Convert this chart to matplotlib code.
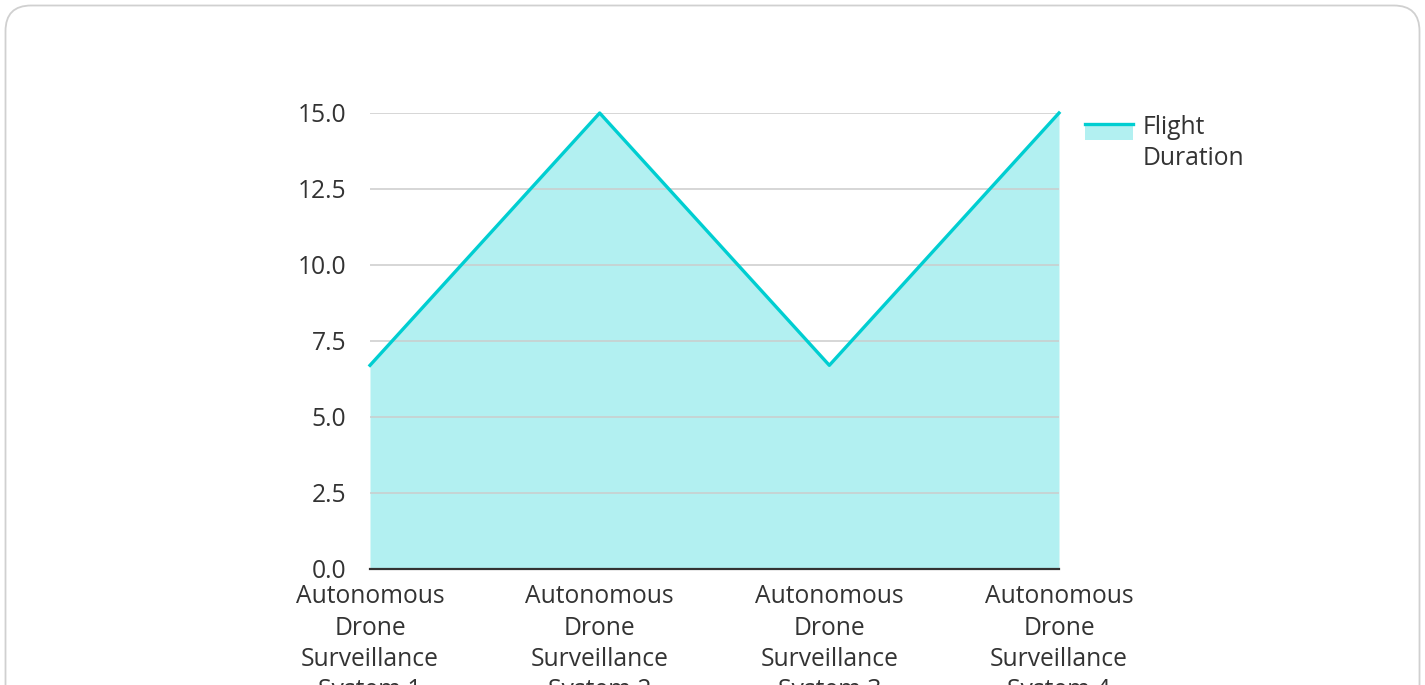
import numpy as np
import matplotlib.pyplot as plt
from matplotlib.patches import FancyBboxPatch, Rectangle
from matplotlib.lines import Line2D

plt.rcParams['font.family'] = ['Open Sans', 'DejaVu Sans']

systems = ["Autonomous\nDrone\nSurveillance\nSystem 1",
           "Autonomous\nDrone\nSurveillance\nSystem 2",
           "Autonomous\nDrone\nSurveillance\nSystem 3",
           "Autonomous\nDrone\nSurveillance\nSystem 4"]
flight_duration = [6.7, 15.0, 6.7, 15.0]
y_ticks = [0.0, 2.5, 5.0, 7.5, 10.0, 12.5, 15.0]

line_color = "#00CED1"
fill_color = "#B2F0F1"
text_color = "#333333"
fs = 17.7


class TopLineHandler:
    # fill box with the line along its top, raised to sit beside the first text line
    def legend_artist(self, legend, orig_handle, fontsize, handlebox):
        x0, y0 = handlebox.xdescent, handlebox.ydescent
        w, h = handlebox.width, handlebox.height
        y0 = y0 + 10
        tr = handlebox.get_transform()
        rect = Rectangle((x0, y0), w, h, facecolor=fill_color, edgecolor='none', transform=tr)
        line = Line2D([x0, x0 + w], [y0 + h, y0 + h], color=line_color, lw=2.4, transform=tr)
        handlebox.add_artist(rect)
        handlebox.add_artist(line)
        return rect


fig = plt.figure(figsize=(14.25, 6.85), dpi=100)

# card background with rounded border
card = FancyBboxPatch((5.5 / 1425, -0.1), 1414 / 1425, 748 / 685,
                      boxstyle="round,pad=0,rounding_size=0.018",
                      transform=fig.transFigure, facecolor="white",
                      edgecolor="#d0d0d0", linewidth=1.3, mutation_aspect=1425 / 685,
                      zorder=-10)
fig.add_artist(card)

ax = fig.add_axes([370 / 1425, 1 - 569 / 685, 689 / 1425, 456 / 685])
ax.set_facecolor('none')

x = np.arange(len(systems))
ax.fill_between(x, flight_duration, 0, color=fill_color, linewidth=0)
ax.plot(x, flight_duration, color=line_color, lw=2.4, clip_on=False, zorder=3)

ax.set_xlim(0, len(systems) - 1)
ax.set_ylim(0, 15)
ax.set_yticks(y_ticks)
ax.set_yticklabels([f"{v:.1f}" for v in y_ticks])
ax.set_xticks(x)
ax.set_xticklabels(systems, linespacing=1.33)

ax.tick_params(axis='y', length=0, pad=17, labelsize=fs, labelcolor=text_color)
ax.tick_params(axis='x', length=0, pad=11, labelsize=fs, labelcolor=text_color)
ax.grid(axis='y', color="#cccccc", linewidth=1.1)

for side in ['top', 'right', 'left']:
    ax.spines[side].set_visible(False)
ax.spines['bottom'].set_color("#333333")
ax.spines['bottom'].set_linewidth(1.6)

handle = Rectangle((0, 0), 1, 1)
leg = ax.legend([handle], ["Flight\nDuration"], handler_map={Rectangle: TopLineHandler()},
                loc='upper left', bbox_to_anchor=(1085 / 1425, 1 - 115 / 685),
                bbox_transform=fig.transFigure, frameon=False, fontsize=fs,
                handlelength=1.95, handleheight=0.57, handletextpad=0.38,
                borderpad=0, borderaxespad=0, labelspacing=0.3)
for t in leg.get_texts():
    t.set_color(text_color)
    t.set_linespacing(1.3)

fig.savefig("out.png", dpi=100)
